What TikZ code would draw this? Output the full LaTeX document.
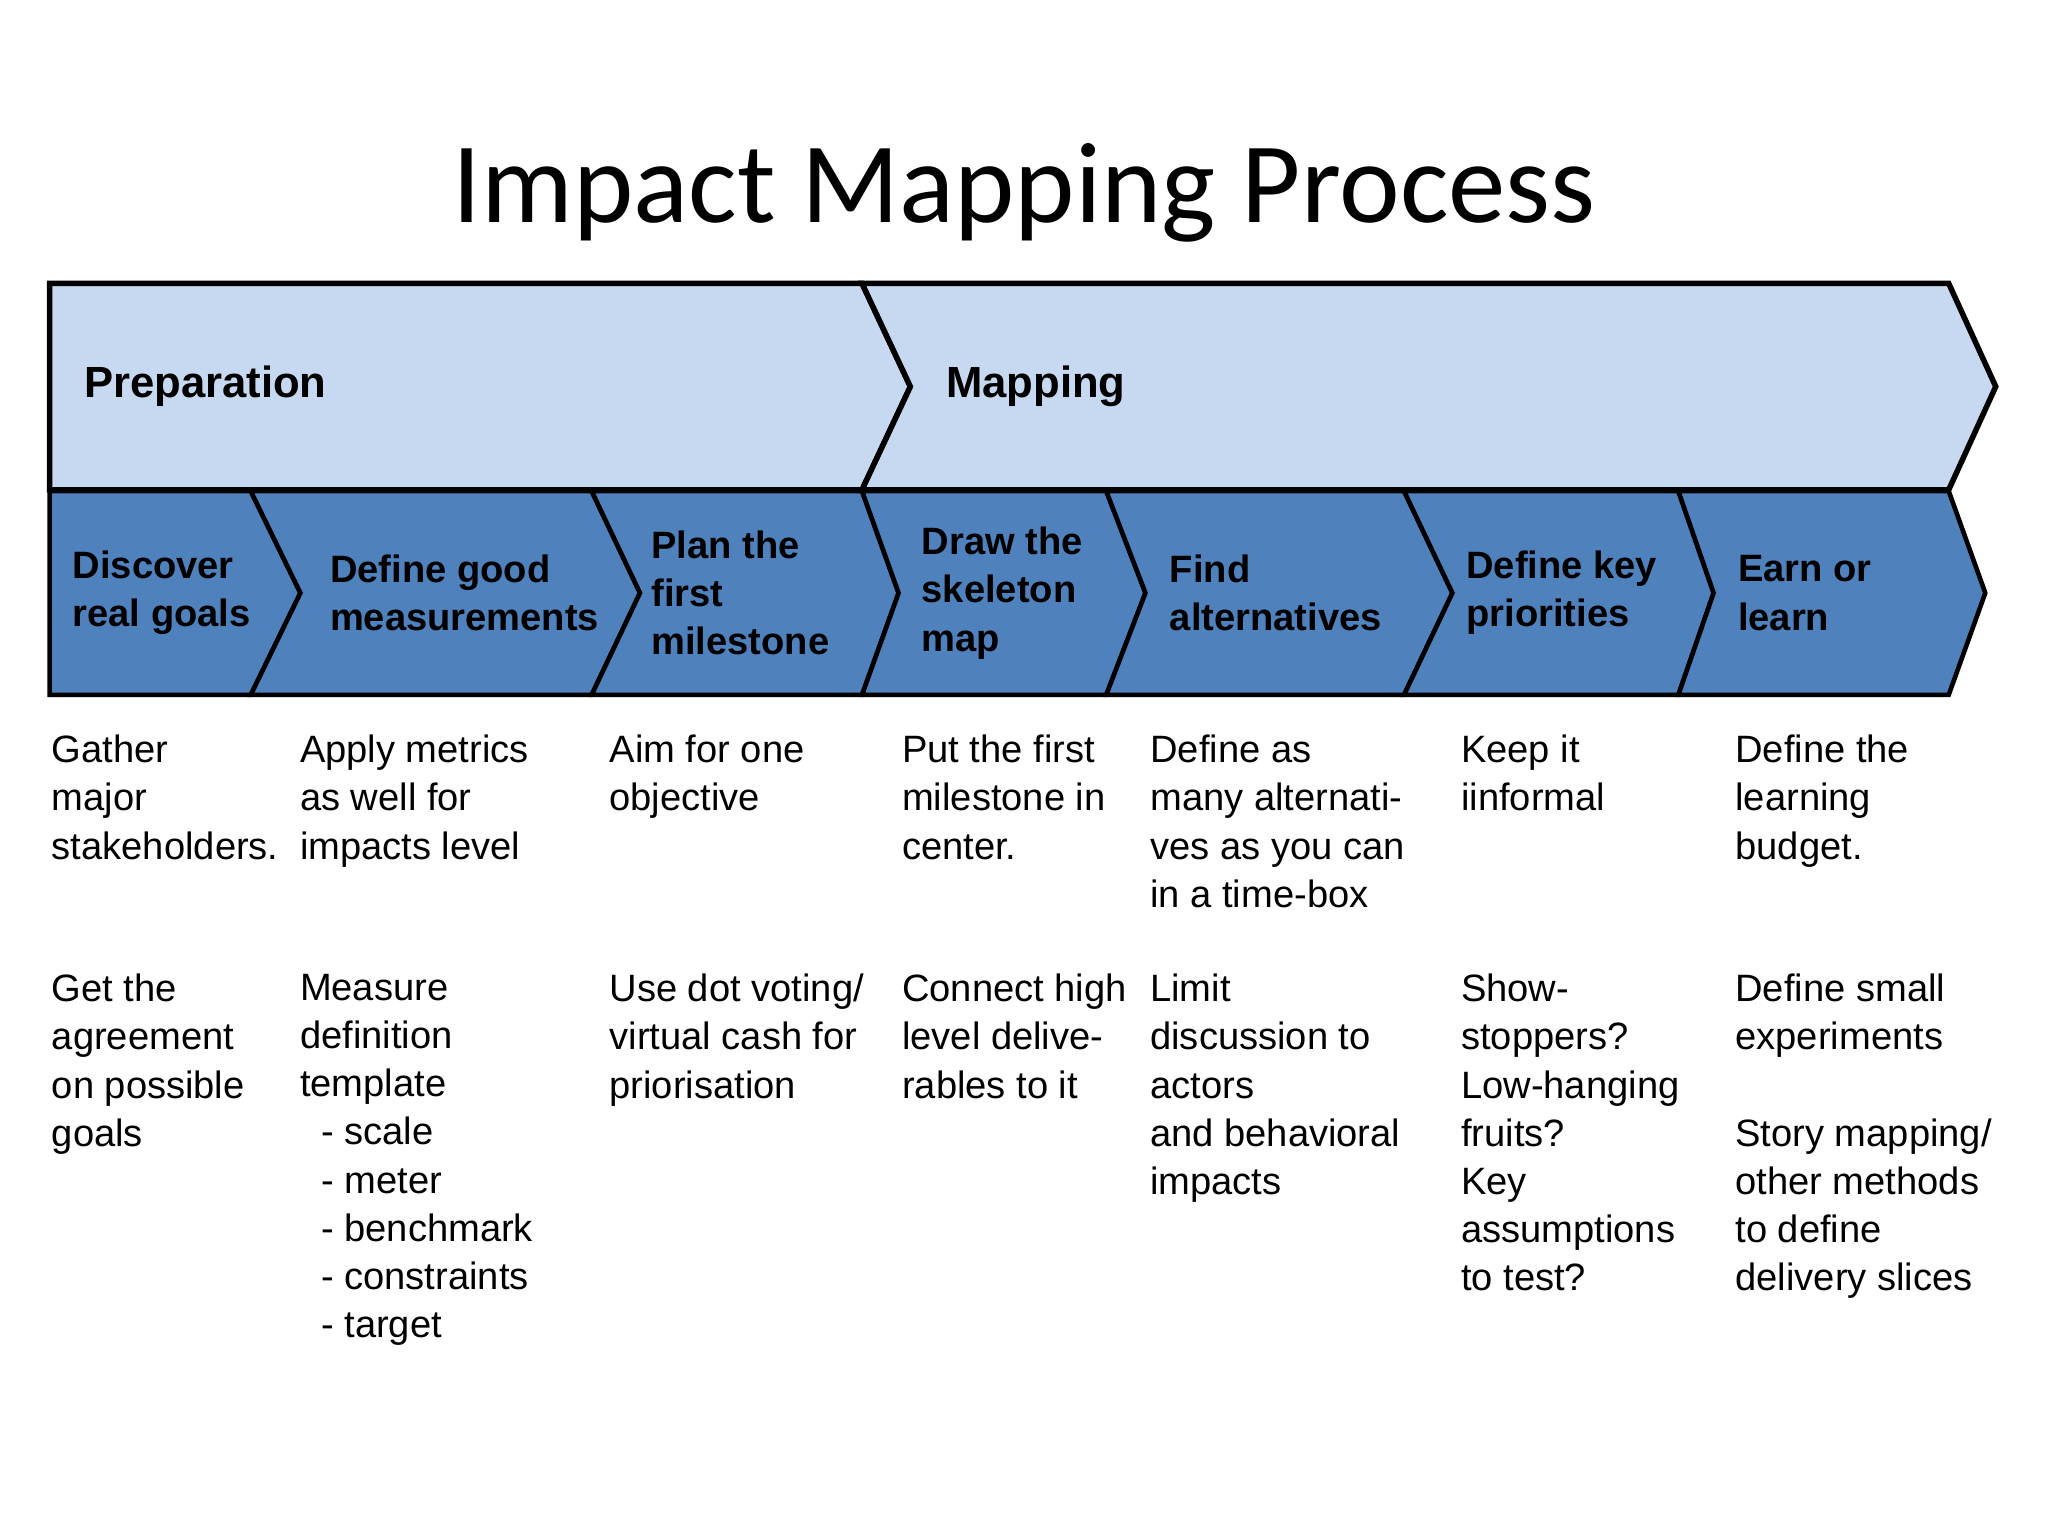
\documentclass[tikz,border=0pt]{standalone}
\usepackage{fontspec}
\setmainfont{Liberation Sans}
\newfontfamily\titlefont{Carlito}
\begin{document}
\begin{tikzpicture}[x=0.01cm,y=-0.01cm,
  top/.style={fill=blue!20!cyan!10!white,fill=top1,draw=black,line width=1.2pt},
  low/.style={fill=low1,draw=black,line width=1pt},
  hd/.style={anchor=west,font=\fontsize{9.5pt}{11pt}\selectfont\bfseries,text=black},
  sh/.style={anchor=west,align=left,font=\fontsize{8.3pt}{10.5pt}\selectfont\bfseries,text=black,inner sep=0},
  tx/.style={anchor=north west,align=left,font=\fontsize{8.3pt}{10.5pt}\selectfont,inner sep=0}]
\definecolor{top1}{HTML}{C6D9F0}
\definecolor{low1}{HTML}{4F81BD}
\useasboundingbox (0,0) rectangle (1568,1176);
\node (title) at (784,148) {\titlefont\fontsize{25pt}{30pt}\selectfont Impact Mapping Process};
\draw[top] (38,217)--(660,217)--(697,296)--(660,375)--(38,375)--cycle;
\draw[top] (660,217)--(1492,217)--(1528,296)--(1492,375)--(660,375)--(697,296)--cycle;
\node[hd] (prep) at (52,296) {Preparation};
\node[hd] (map) at (712,296) {Mapping};
% lower chevrons
\draw[low] (38,376)--(192,376)--(230,454)--(192,532)--(38,532)--cycle;
\draw[low] (192,376)--(453,376)--(490,454)--(453,532)--(192,532)--(230,454)--cycle;
\draw[low] (453,376)--(660,376)--(688,454)--(660,532)--(453,532)--(490,454)--cycle;
\draw[low] (660,376)--(847,376)--(877,454)--(847,532)--(660,532)--(688,454)--cycle;
\draw[low] (847,376)--(1075,376)--(1112,454)--(1075,532)--(847,532)--(877,454)--cycle;
\draw[low] (1075,376)--(1285,376)--(1312,454)--(1285,532)--(1075,532)--(1112,454)--cycle;
\draw[low] (1285,376)--(1492,376)--(1520,454)--(1492,532)--(1285,532)--(1312,454)--cycle;
\node[sh] (s1) at (55,454) {Discover\\real goals};
\node[sh] (s2) at (252,454) {Define good\\measurements};
\node[sh] (s3) at (498,454) {Plan the\\first\\milestone};
\node[sh] (s4) at (705,454) {Draw the\\skeleton\\map};
\node[sh] (s5) at (895,454) {Find\\alternatives};
\node[sh] (s6) at (1122,454) {Define key\\priorities};
\node[sh] (s7) at (1330,454) {Earn or\\learn};
% texts
\node[tx] (a1) at (39,562) {Gather\\major\\stakeholders.};
\node[tx] (a2) at (229,562) {Apply metrics\\as well for\\impacts level};
\node[tx] (a3) at (466,562) {Aim for one\\objective};
\node[tx] (a4) at (690,562) {Put the first\\milestone in\\center.};
\node[tx] (a5) at (880,562) {Define as\\many alternati-\\ves as you can\\in a time-box};
\node[tx] (a6) at (1118,562) {Keep it\\iinformal};
\node[tx] (a7) at (1328,562) {Define the\\learning\\budget.};
\node[tx] (b1) at (39,745) {Get the\\agreement\\on possible\\goals};
\node[tx] (b2) at (229,745) {Measure\\definition\\template\\\ \ - scale\\\ \ - meter\\\ \ - benchmark\\\ \ - constraints\\\ \ - target};
\node[tx] (b3) at (466,745) {Use dot voting/\\virtual cash for\\priorisation};
\node[tx] (b4) at (690,745) {Connect high\\level delive-\\rables to it};
\node[tx] (b5) at (880,745) {Limit\\discussion to\\actors\\and behavioral\\impacts};
\node[tx] (b6) at (1118,745) {Show-\\stoppers?\\Low-hanging\\fruits?\\Key\\assumptions\\to test?};
\node[tx] (b7) at (1328,745) {Define small\\experiments\\\\Story mapping/\\other methods\\to define\\delivery slices};
\end{tikzpicture}
\end{document}
